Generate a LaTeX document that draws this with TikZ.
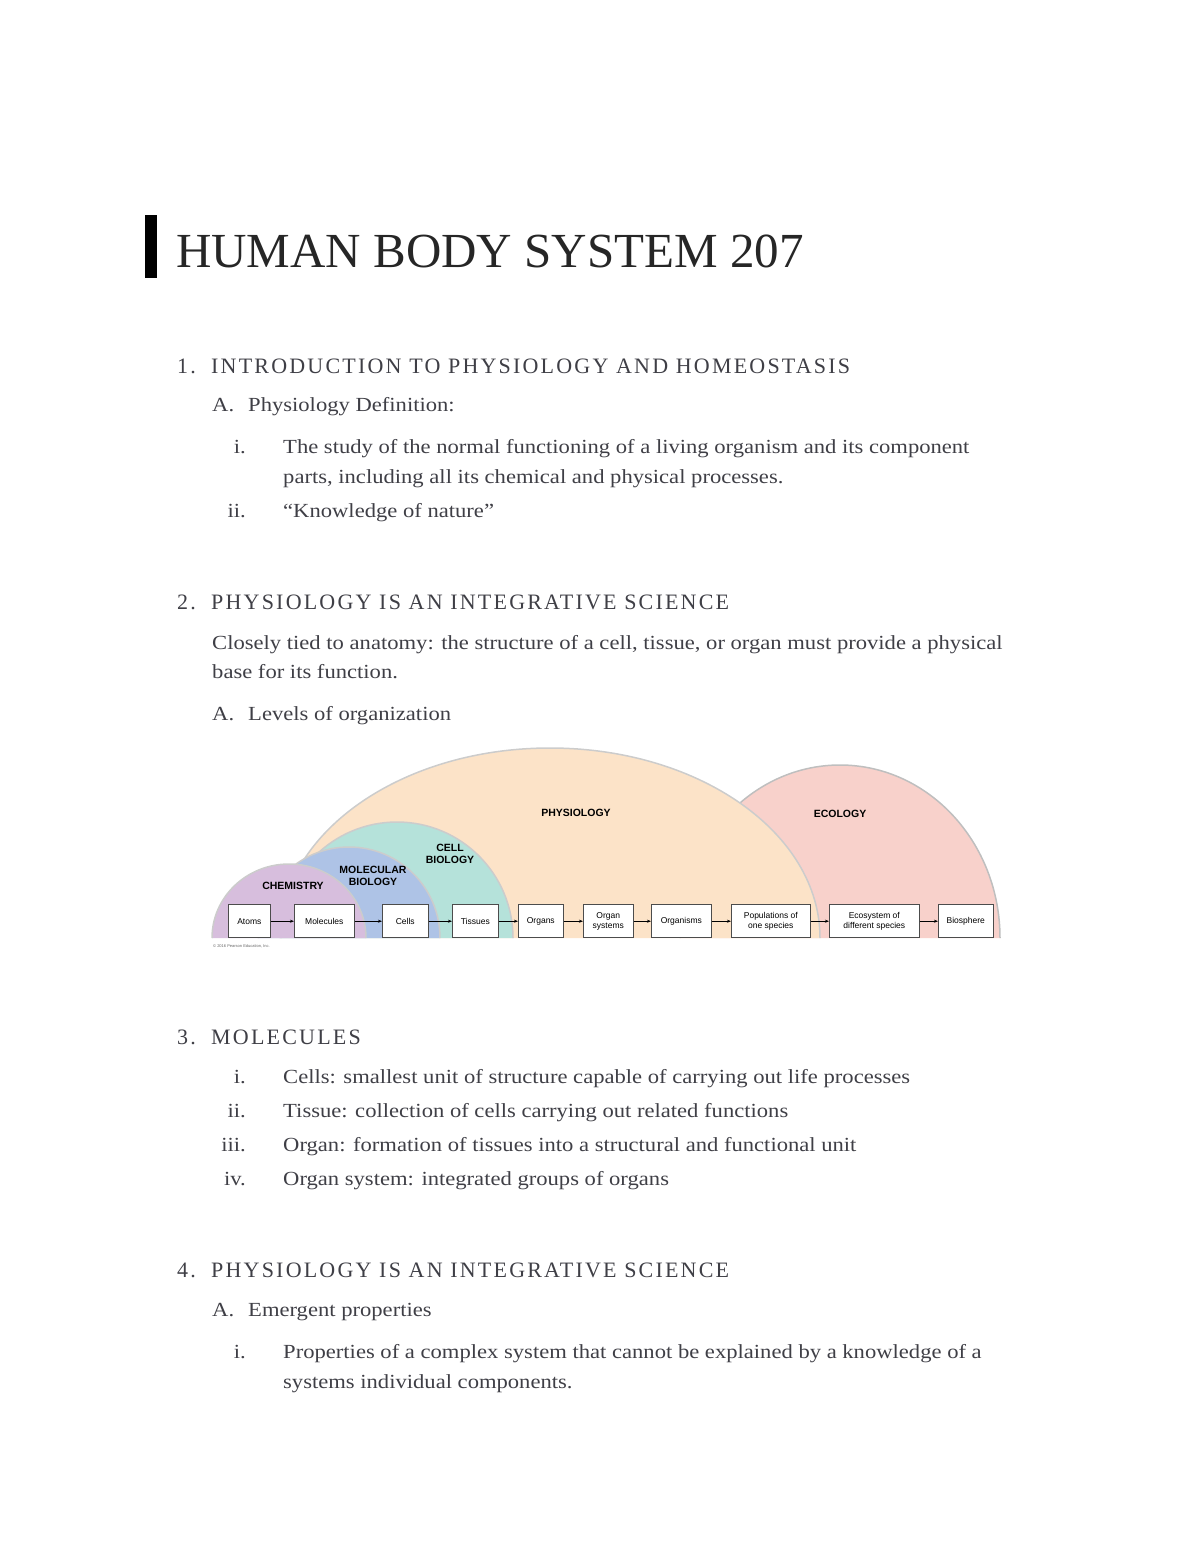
\documentclass[tikz,border=0pt]{standalone}
\usepackage{fontspec}
\setmainfont{Liberation Serif}
\newfontfamily\hsans{Liberation Sans}
\newfontfamily\bodyf[FakeStretch=1.13]{Liberation Serif}
\usetikzlibrary{arrows.meta}
\definecolor{txt}{HTML}{3F3F46}
\definecolor{chem}{HTML}{D7BEDD}
\definecolor{molb}{HTML}{AEC3E6}
\definecolor{cellb}{HTML}{B5E2DA}
\definecolor{phys}{HTML}{FCE3C8}
\definecolor{ecol}{HTML}{F8D1CB}
\tikzset{
 t/.style={anchor=base west,inner sep=0,text=txt,font=\bodyf\fontsize{20}{22}\selectfont},
 hd/.style={anchor=base west,inner sep=0,text=txt,font=\fontsize{22}{26}\selectfont\addfontfeature{LetterSpace=10}},
 num/.style={anchor=base east,inner sep=0,text=txt,font=\bodyf\fontsize{20}{22}\selectfont},
 bx/.style={draw=black!70,fill=white,line width=0.6pt,minimum height=33pt,inner sep=1pt,align=center,font=\hsans\fontsize{8.5}{9.5}\selectfont,anchor=south west},
 dl/.style={font=\hsans\bfseries\fontsize{10.5}{11.5}\selectfont,align=center,inner sep=0},
 ar/.style={-{Stealth[length=4pt]},line width=0.7pt}
}
\begin{document}
\begin{tikzpicture}[x=1pt,y=-1pt]
\useasboundingbox (0,0) rectangle (1200,1553);
\fill (145,215) rectangle (157,278);
\node[anchor=base west,inner sep=0,text=black!85,font=\fontsize{49}{56}\selectfont] (title) at (176,267) {HUMAN BODY SYSTEM 207};
% section 1
\node[hd] (h1n) at (177,373) {1.}; \node[hd] (h1) at (211,373) {INTRODUCTION TO PHYSIOLOGY AND HOMEOSTASIS};
\node[t] (a1n) at (212,411) {A.}; \node[t] (a1) at (248,411) {Physiology Definition:};
\node[num] (i1n) at (246,453) {i.}; \node[t] (i1) at (283,453) {The study of the normal functioning of a living organism and its component};
\node[t] (i1b) at (283,483) {parts, including all its chemical and physical processes.};
\node[num] (ii1n) at (246,517) {ii.}; \node[t] (ii1) at (283,517) {“Knowledge of nature”};
% section 2
\node[hd] (h2n) at (177,609) {2.}; \node[hd] (h2) at (211,609) {PHYSIOLOGY IS AN INTEGRATIVE SCIENCE};
\node[t] (p2) at (212,649) {Closely tied to anatomy: the structure of a cell, tissue, or organ must provide a physical};
\node[t] (p2b) at (212,678) {base for its function.};
\node[t] (a2n) at (212,720) {A.}; \node[t] (a2) at (248,720) {Levels of organization};
% diagram
\begin{scope}
\clip (200,700) rectangle (1010,938);
\fill[ecol,draw=black!25,line width=1.5pt] (1000,938) arc[start angle=0,end angle=-180,x radius=160,y radius=173];
\fill[phys,draw=black!20,line width=1.5pt] (820,938) arc[start angle=0,end angle=-180,x radius=270,y radius=190];
\fill[cellb,draw=black!20,line width=1.5pt] (513,938) arc[start angle=0,end angle=-180,x radius=116,y radius=116];
\fill[molb,draw=black!20,line width=1.5pt] (440,938) arc[start angle=0,end angle=-180,x radius=91,y radius=91];
\fill[chem,draw=black!20,line width=1.5pt] (366,938) arc[start angle=0,end angle=-180,x radius=77,y radius=74];
\end{scope}
\node[dl] (lphys) at (576,813) {PHYSIOLOGY};
\node[dl] (lecol) at (840,814) {ECOLOGY};
\node[dl] (lcell) at (450,854) {CELL\\BIOLOGY};
\node[dl] (lmol) at (373,876) {MOLECULAR\\BIOLOGY};
\node[dl] (lchem) at (293,886) {CHEMISTRY};
\node[bx,minimum width=42pt] (b1) at (228,938) {Atoms};
\node[bx,minimum width=60pt] (b2) at (294,938) {Molecules};
\node[bx,minimum width=46pt] (b3) at (382,938) {Cells};
\node[bx,minimum width=46pt] (b4) at (452,938) {Tissues};
\node[bx,minimum width=45pt] (b5) at (518,938) {Organs};
\node[bx,minimum width=50pt] (b6) at (583,938) {Organ\\systems};
\node[bx,minimum width=60pt] (b7) at (651,938) {Organisms};
\node[bx,minimum width=79pt] (b8) at (731,938) {Populations of\\one species};
\node[bx,minimum width=90pt] (b9) at (829,938) {Ecosystem of\\different species};
\node[bx,minimum width=55pt] (b10) at (938,938) {Biosphere};
\foreach \a/\b in {b1/b2,b2/b3,b3/b4,b4/b5,b5/b6,b6/b7,b7/b8,b8/b9,b9/b10} \draw[ar] (\a) -- (\b);
\node[anchor=west,inner sep=0,font=\hsans\fontsize{4}{4}\selectfont,text=black!60] (copy) at (213,946) {© 2016 Pearson Education, Inc.};
% section 3
\node[hd] (h3n) at (177,1044) {3.}; \node[hd] (h3) at (211,1044) {MOLECULES};
\node[num] (c1) at (246,1083) {i.}; \node[t] (c1t) at (283,1083) {Cells: smallest unit of structure capable of carrying out life processes};
\node[num] (c2) at (246,1117) {ii.}; \node[t] (c2t) at (283,1117) {Tissue: collection of cells carrying out related functions};
\node[num] (c3) at (246,1151) {iii.}; \node[t] (c3t) at (283,1151) {Organ: formation of tissues into a structural and functional unit};
\node[num] (c4) at (246,1185) {iv.}; \node[t] (c4t) at (283,1185) {Organ system: integrated groups of organs};
% section 4
\node[hd] (h4n) at (177,1277) {4.}; \node[hd] (h4) at (211,1277) {PHYSIOLOGY IS AN INTEGRATIVE SCIENCE};
\node[t] (a4n) at (212,1316) {A.}; \node[t] (a4) at (248,1316) {Emergent properties};
\node[num] (e1) at (246,1358) {i.}; \node[t] (e1t) at (283,1358) {Properties of a complex system that cannot be explained by a knowledge of a};
\node[t] (e1b) at (283,1388) {systems individual components.};
\end{tikzpicture}
\end{document}
